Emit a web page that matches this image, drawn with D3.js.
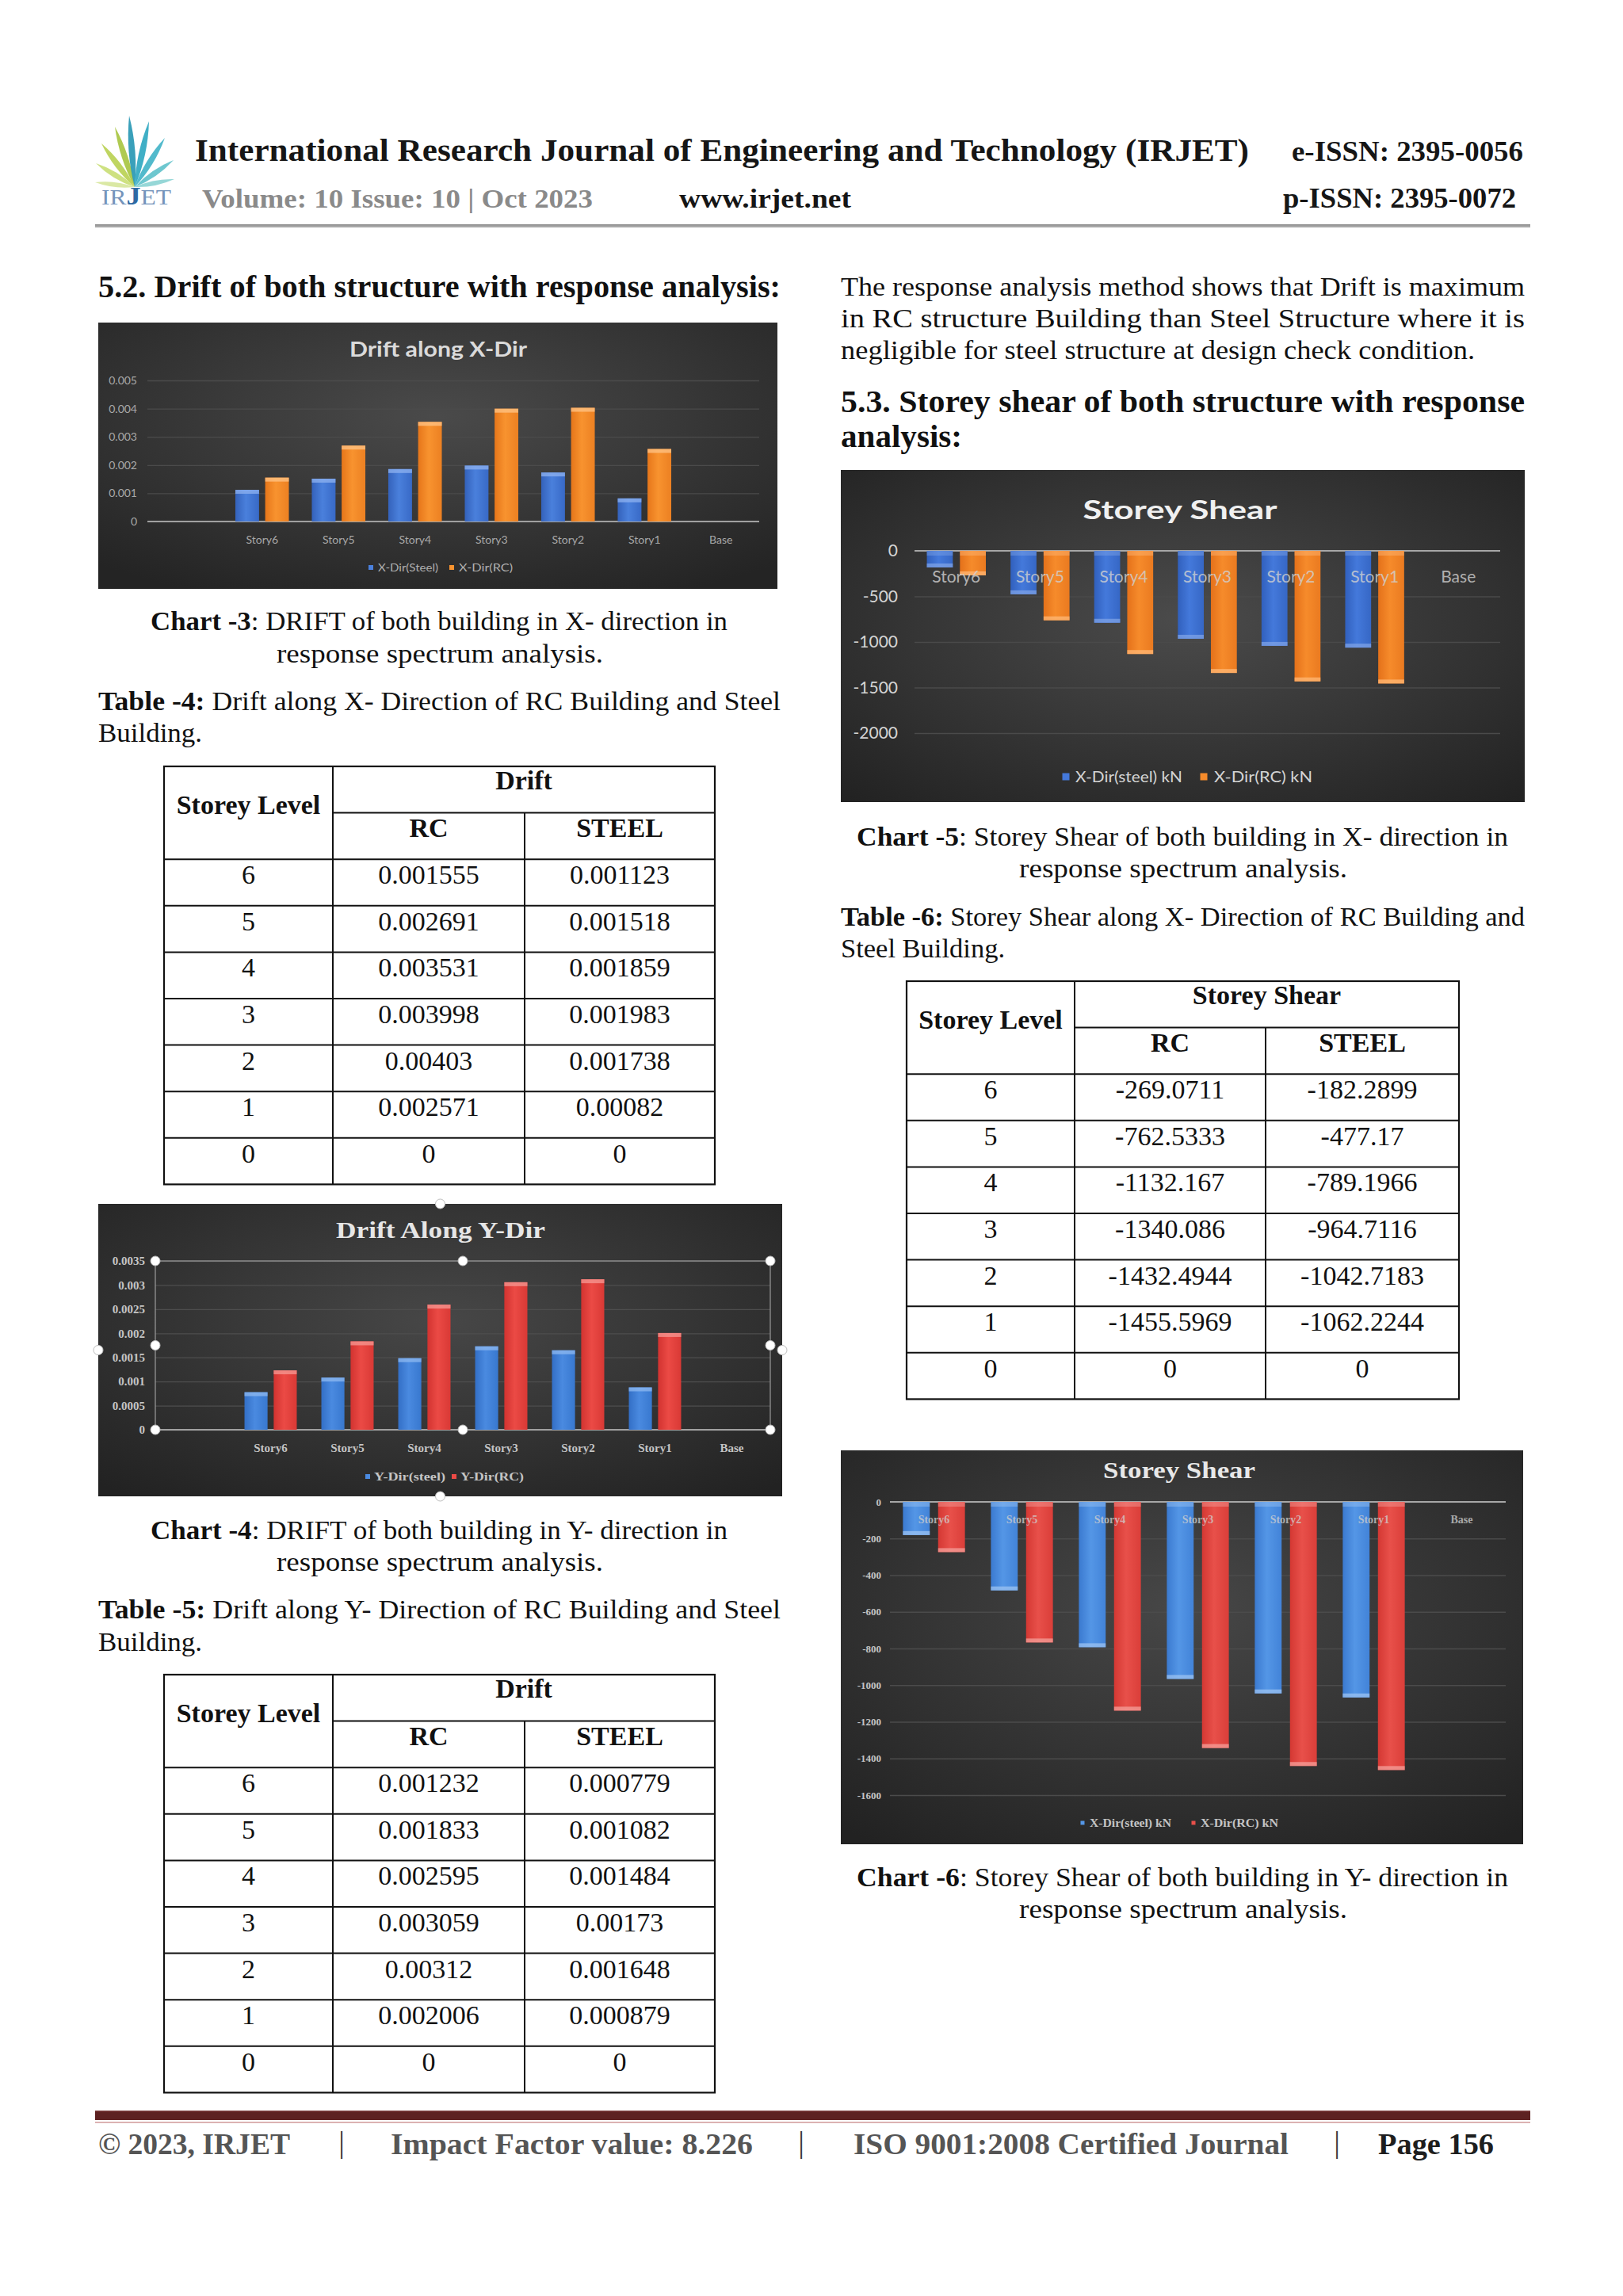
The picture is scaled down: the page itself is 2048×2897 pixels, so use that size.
<!DOCTYPE html>
<html><head><meta charset="utf-8">
<script src="https://cdn.jsdelivr.net/npm/d3@7"></script>
<style>html,body{margin:0;padding:0;background:#fff;} svg{display:block;}</style>
</head><body>
<svg id="page" width="2048" height="2897"></svg>
<script>
// ---------------- DATA ----------------
const storyCats = ["Story6","Story5","Story4","Story3","Story2","Story1","Base"];
const driftCats = ["", "Story6","Story5","Story4","Story3","Story2","Story1","Base"];
const storeyLevels = ["6","5","4","3","2","1","0"];

const driftXRC    = [0.001555, 0.002691, 0.003531, 0.003998, 0.00403, 0.002571, 0];
const driftXSteel = [0.001123, 0.001518, 0.001859, 0.001983, 0.001738, 0.00082, 0];
const driftYRC    = [0.001232, 0.001833, 0.002595, 0.003059, 0.00312, 0.002006, 0];
const driftYSteel = [0.000779, 0.001082, 0.001484, 0.00173, 0.001648, 0.000879, 0];
const shearXRC    = [-269.0711, -762.5333, -1132.167, -1340.086, -1432.4944, -1455.5969, 0];
const shearXSteel = [-182.2899, -477.17, -789.1966, -964.7116, -1042.7183, -1062.2244, 0];
// Chart 6 (Y direction) values
const shearYRC    = [-274, -767, -1139, -1343, -1441, -1463, 0];
const shearYSteel = [-181, -483, -793, -966, -1045, -1067, 0];

const driftXTicks = [0, 0.001, 0.002, 0.003, 0.004, 0.005];
const driftYTicks = [0, 0.0005, 0.001, 0.0015, 0.002, 0.0025, 0.003, 0.0035];
const shearXTicks = [0, -500, -1000, -1500, -2000];
const shearYTicks = [0, -200, -400, -600, -800, -1000, -1200, -1400, -1600];

// ---------------- HELPERS ----------------
const SERIF = "'Liberation Serif', 'Times New Roman', serif";
const SANS = "Lato, 'Open Sans', sans-serif";
const svg = d3.select("#page");
const defs = svg.append("defs");
svg.append("rect").attr("width",2048).attr("height",2897).attr("fill","#ffffff");

function txt(parent, x, y, parts, o) {
  const t = parent.append("text").attr("x", x).attr("y", y)
    .attr("font-family", o.family || SERIF).attr("font-size", o.size)
    .attr("fill", o.fill || "#111");
  if (o.weight) t.attr("font-weight", o.weight);
  if (o.anchor) t.attr("text-anchor", o.anchor);
  if (o.len) t.attr("textLength", o.len).attr("lengthAdjust", "spacingAndGlyphs");
  if (typeof parts === "string") t.text(parts);
  else parts.forEach(p => t.append("tspan").attr("font-weight", p.b ? "bold" : "normal").text(p.t));
  return t;
}

function hGrad(id, cols) {
  const g = defs.append("linearGradient").attr("id", id).attr("x1","0").attr("x2","1").attr("y1","0").attr("y2","0");
  g.append("stop").attr("offset","0%").attr("stop-color", cols[0]);
  g.append("stop").attr("offset","45%").attr("stop-color", cols[1]);
  g.append("stop").attr("offset","100%").attr("stop-color", cols[2]);
}

// ---------------- HEADER ----------------
const head = svg.append("g");
const leafOrigin = [170, 236];
const leaves = [
  [120, 230, 6, "#d6e69a"], [121, 206, 7, "#c9de74"], [128, 181, 7.5, "#b8d050"],
  [145, 160, 7.5, "#a6c43e"], [163, 146, 8, "#2596b2"], [188, 153, 8, "#2ba6c0"],
  [208, 174, 7.5, "#3fb3c6"], [219, 202, 7, "#5ec1ca"], [220, 226, 6, "#8bd3d3"]
];
leaves.forEach(l => {
  const [ox, oy] = leafOrigin, [tx, ty, w] = l;
  const mx = (ox + tx) / 2, my = (oy + ty) / 2;
  const dx = tx - ox, dy = ty - oy, len = Math.hypot(dx, dy);
  const nx = -dy / len * w, ny = dx / len * w;
  head.append("path")
    .attr("d", `M${ox},${oy} Q${mx+nx},${my+ny} ${tx},${ty} Q${mx-nx},${my-ny} ${ox},${oy}Z`)
    .attr("fill", l[3]).attr("opacity", 0.9);
});
const lt = head.append("text").attr("x", 128).attr("y", 258)
  .attr("font-family", SERIF).attr("font-size", 27).attr("fill", "#7494bb")
  .attr("textLength", 88).attr("lengthAdjust", "spacingAndGlyphs");
lt.append("tspan").text("IR");
lt.append("tspan").attr("font-size", 31).attr("fill", "#2f6aa3").attr("font-weight","bold").text("J");
lt.append("tspan").text("ET");

txt(head, 246, 203, "International Research Journal of Engineering and Technology (IRJET)", {size: 41, weight: "bold", len: 1330, fill: "#161616"});
txt(head, 1630, 203, "e-ISSN: 2395-0056", {size: 35, weight: "bold", len: 292, fill: "#161616"});
txt(head, 255, 262, "Volume: 10 Issue: 10 | Oct 2023", {size: 34, weight: "bold", len: 493, fill: "#8a8a8a"});
txt(head, 857, 262, "www.irjet.net", {size: 34, weight: "bold", len: 217, fill: "#161616"});
txt(head, 1619, 262, "p-ISSN: 2395-0072", {size: 35, weight: "bold", len: 294, fill: "#161616"});
head.append("rect").attr("x", 120).attr("y", 283).attr("width", 1811).attr("height", 4).attr("fill", "#a8a8a8");
head.append("rect").attr("x", 120).attr("y", 283).attr("width", 1811).attr("height", 1.5).attr("fill", "#8e8e8e");

// ---------------- BODY TEXT ----------------
const body = svg.append("g");
txt(body, 124, 375, "5.2. Drift of both structure with response analysis:", {size: 39, weight: "bold", len: 861});
txt(body, 1061, 373, "The response analysis method shows that Drift is maximum", {size: 34, len: 863});
txt(body, 1061, 413, "in RC structure Building than Steel Structure where it is", {size: 34, len: 863});
txt(body, 1061, 453, "negligible for steel structure at design check condition.", {size: 34, len: 800});
txt(body, 1061, 520, "5.3. Storey shear of both structure with response", {size: 39, weight: "bold", len: 863});
txt(body, 1061, 564, "analysis:", {size: 39, weight: "bold", len: 153});

txt(body, 190, 795, [{t:"Chart -3", b:true}, {t:": DRIFT of both building in X- direction in"}], {size: 34, len: 728});
txt(body, 349, 836, "response spectrum analysis.", {size: 34, len: 412});
txt(body, 124, 896, [{t:"Table -4:", b:true}, {t:" Drift along X- Direction of RC Building and Steel"}], {size: 34, len: 861});
txt(body, 124, 936, "Building.", {size: 34, len: 131});

txt(body, 190, 1942, [{t:"Chart -4", b:true}, {t:": DRIFT of both building in Y- direction in"}], {size: 34, len: 728});
txt(body, 349, 1982, "response spectrum analysis.", {size: 34, len: 412});
txt(body, 124, 2042, [{t:"Table -5:", b:true}, {t:" Drift along Y- Direction of RC Building and Steel"}], {size: 34, len: 861});
txt(body, 124, 2083, "Building.", {size: 34, len: 131});

txt(body, 1081, 1067, [{t:"Chart -5", b:true}, {t:": Storey Shear of both building in X- direction in"}], {size: 34, len: 822});
txt(body, 1286, 1107, "response spectrum analysis.", {size: 34, len: 414});
txt(body, 1061, 1168, [{t:"Table -6:", b:true}, {t:" Storey Shear along X- Direction of RC Building and"}], {size: 34, len: 863});
txt(body, 1061, 1208, "Steel Building.", {size: 34, len: 207});

txt(body, 1081, 2380, [{t:"Chart -6", b:true}, {t:": Storey Shear of both building in Y- direction in"}], {size: 34, len: 822});
txt(body, 1286, 2420, "response spectrum analysis.", {size: 34, len: 414});

// ---------------- TABLES ----------------
function drawTable(cfg) {
  const g = svg.append("g");
  const [x0, x1, x2, x3] = cfg.cols;
  const top = cfg.top, rh = cfg.rowH, nRows = 2 + storeyLevels.length;
  const bottom = top + nRows * rh;
  const ln = (a, b, c, d) => g.append("line").attr("x1", a).attr("y1", b).attr("x2", c).attr("y2", d)
    .attr("stroke", "#111").attr("stroke-width", 2);
  g.append("rect").attr("x", x0).attr("y", top).attr("width", x3 - x0).attr("height", bottom - top)
    .attr("fill", "none").attr("stroke", "#111").attr("stroke-width", 2.2);
  ln(x1, top, x1, bottom);
  ln(x2, top + rh, x2, bottom);
  ln(x1, top + rh, x3, top + rh);
  for (let r = 2; r < nRows; r++) ln(x0, top + r * rh, x3, top + r * rh);
  const c0 = (x0 + x1) / 2, c1 = (x1 + x2) / 2, c2 = (x2 + x3) / 2;
  txt(g, c0, top + rh + 1, "Storey Level", {size: 34, weight: "bold", anchor: "middle"});
  txt(g, (x1 + x3) / 2, top + 29, cfg.group, {size: 34, weight: "bold", anchor: "middle"});
  txt(g, c1, top + rh + 30, "RC", {size: 34, weight: "bold", anchor: "middle"});
  txt(g, c2, top + rh + 30, "STEEL", {size: 34, weight: "bold", anchor: "middle"});
  storeyLevels.forEach((lv, i) => {
    const y = top + (2 + i) * rh + 31;
    txt(g, c0, y, lv, {size: 34, anchor: "middle"});
    txt(g, c1, y, String(cfg.rc[i]), {size: 34, anchor: "middle"});
    txt(g, c2, y, String(cfg.steel[i]), {size: 34, anchor: "middle"});
  });
}
drawTable({cols: [207, 420, 662, 902], top: 967, rowH: 58.6, group: "Drift", rc: driftXRC, steel: driftXSteel});
drawTable({cols: [207, 420, 662, 902], top: 2113, rowH: 58.6, group: "Drift", rc: driftYRC, steel: driftYSteel});
drawTable({cols: [1144, 1356, 1597, 1841], top: 1238, rowH: 58.6, group: "Storey Shear", rc: shearXRC, steel: shearXSteel});

// ---------------- CHARTS ----------------
function barChart(c) {
  const g = svg.append("g");
  const [bx0, by0, bx1, by1] = c.box;
  const bg = defs.append("radialGradient").attr("id", c.id + "bg")
    .attr("cx", "50%").attr("cy", c.bgCy || "40%").attr("r", "75%");
  bg.append("stop").attr("offset", "0%").attr("stop-color", c.bgIn || "#4d4d4d");
  bg.append("stop").attr("offset", "100%").attr("stop-color", c.bgOut || "#222222");
  g.append("rect").attr("x", bx0).attr("y", by0).attr("width", bx1 - bx0).attr("height", by1 - by0)
    .attr("fill", `url(#${c.id}bg)`);

  const x = d3.scaleBand().domain(c.cats).range(c.plotX).paddingInner(0).paddingOuter(0);
  const y = d3.scaleLinear().domain(c.yDomain).range(c.yRange);
  const pw = c.plotX[1] - c.plotX[0];

  const gy = g.append("g").attr("transform", `translate(${c.plotX[0]},0)`)
    .call(d3.axisLeft(y).tickValues(c.ticks).tickSize(-pw).tickPadding(c.tickPad).tickFormat(d => String(d)));
  gy.select(".domain").remove();
  gy.selectAll(".tick line").attr("stroke", c.gridColor).attr("stroke-width", 1.3);
  gy.selectAll(".tick text").attr("font-family", c.tickFont).attr("font-size", c.tickSize)
    .attr("font-weight", c.tickWeight || "normal").attr("fill", c.tickFill);

  g.append("line").attr("x1", c.plotX[0]).attr("x2", c.plotX[1]).attr("y1", y(0)).attr("y2", y(0))
    .attr("stroke", c.zeroColor).attr("stroke-width", 2.2);

  if (c.frame) {
    g.append("rect").attr("x", c.plotX[0]).attr("y", y(c.yDomain[1])).attr("width", pw)
      .attr("height", y(c.yDomain[0]) - y(c.yDomain[1])).attr("fill", "none")
      .attr("stroke", "#9c9c9c").attr("stroke-width", 1.2);
  }

  const bw = x.bandwidth() * c.barFrac, gap = x.bandwidth() * c.gapFrac;
  c.series.forEach((s, si) => {
    hGrad(c.id + "s" + si, s.colors);
    const data = storyCats.map((cat, i) => ({cat, v: s.values[i]})).filter(d => d.v !== 0);
    const bx = d => x(d.cat) + x.bandwidth() / 2 + (si === 0 ? -gap / 2 - bw : gap / 2);
    g.append("g").selectAll("rect").data(data).join("rect")
      .attr("x", bx).attr("width", bw)
      .attr("y", d => Math.min(y(d.v), y(0)))
      .attr("height", d => Math.abs(y(d.v) - y(0)))
      .attr("fill", `url(#${c.id}s${si})`);
    g.append("g").selectAll("rect").data(data).join("rect")
      .attr("x", bx).attr("width", bw)
      .attr("y", d => d.v > 0 ? y(d.v) : y(d.v) - 5)
      .attr("height", 5)
      .attr("fill", s.cap).attr("opacity", 0.75);
    if (c.zeroCap) {
      g.append("g").selectAll("rect").data(data).join("rect")
        .attr("x", bx).attr("width", bw).attr("y", y(0)).attr("height", 6)
        .attr("fill", s.cap).attr("opacity", 0.45);
    }
  });

  const gx = g.append("g").attr("transform", `translate(0,${c.catY})`)
    .call(d3.axisBottom(x).tickSize(0).tickPadding(0));
  gx.select(".domain").remove();
  gx.selectAll(".tick text").attr("y", 0).attr("dy", "0.35em")
    .attr("font-family", c.catFont).attr("font-size", c.catSize)
    .attr("font-weight", c.catWeight || "normal").attr("fill", c.catFill)
    .attr("opacity", c.catOpacity || 1);

  c.series.forEach((s, si) => {
    const [mx, tx, tl] = c.legend[si];
    g.append("rect").attr("x", mx - c.legendMark / 2).attr("y", c.legendY - c.legendMark / 2)
      .attr("width", c.legendMark).attr("height", c.legendMark).attr("fill", s.colors[1]);
    txt(g, tx, c.legendY, s.name, {size: c.legendSize, family: c.legendFont, fill: c.legendFill,
      weight: c.legendWeight || "normal", len: tl}).attr("dy", "0.35em");
  });

  txt(g, c.titleX, c.titleY, c.title, {size: c.titleSize, family: c.titleFont, weight: "bold",
    anchor: "middle", fill: c.titleFill, len: c.titleLen});

  if (c.frame) {
    const xs = [c.plotX[0], (c.plotX[0] + c.plotX[1]) / 2, c.plotX[1]];
    const ys = [y(c.yDomain[1]), (y(c.yDomain[0]) + y(c.yDomain[1])) / 2, y(c.yDomain[0])];
    const pts = [];
    xs.forEach((px, i) => ys.forEach((py, j) => { if (!(i === 1 && j === 1)) pts.push([px, py]); }));
    const cx = (bx0 + bx1) / 2, cy = (by0 + by1) / 2;
    pts.push([cx, by0], [cx, by1], [bx0, cy], [bx1, cy]);
    g.append("g").selectAll("circle").data(pts).join("circle")
      .attr("cx", d => d[0]).attr("cy", d => d[1]).attr("r", 6)
      .attr("fill", "#ffffff").attr("stroke", "#bdbdbd").attr("stroke-width", 1);
  }
}

barChart({
  id: "c3", box: [124, 407, 981, 743], bgCy: "35%", bgIn: "#4a4a4a", bgOut: "#242424",
  title: "Drift along X-Dir", titleX: 553, titleY: 450, titleFont: SANS, titleSize: 26, titleLen: 224, titleFill: "#dadada",
  cats: driftCats, plotX: [186, 958], yDomain: [0, 0.005], yRange: [658, 480], ticks: driftXTicks,
  tickPad: 13, tickFont: SANS, tickSize: 14, tickFill: "#a8a8a8",
  gridColor: "#4b4b4b", zeroColor: "#a0a0a0",
  series: [
    {name: "X-Dir(Steel)", values: driftXSteel, colors: ["#3462bb", "#4a80dc", "#3869c6"], cap: "#8fb3f0"},
    {name: "X-Dir(RC)", values: driftXRC, colors: ["#e6761a", "#f8932f", "#ec8022"], cap: "#ffc487"}
  ],
  barFrac: 0.31, gapFrac: 0.08,
  catY: 681, catFont: SANS, catSize: 14, catFill: "#a8a8a8",
  legendY: 716, legend: [[468, 477, 76], [570, 579, 68]], legendMark: 6, legendSize: 14, legendFont: SANS, legendFill: "#b0b0b0"
});

barChart({
  id: "c4", box: [124, 1519, 987, 1888], bgCy: "40%", bgIn: "#474747", bgOut: "#222222",
  title: "Drift Along Y-Dir", titleX: 556, titleY: 1562, titleFont: SERIF, titleSize: 30, titleLen: 264, titleFill: "#e6e6e6",
  cats: driftCats, plotX: [196, 972], yDomain: [0, 0.0035], yRange: [1804, 1591], ticks: driftYTicks,
  tickPad: 13, tickFont: SERIF, tickSize: 15, tickWeight: "bold", tickFill: "#c4c4c4",
  gridColor: "#4e4e4e", zeroColor: "#a8a8a8", frame: true,
  series: [
    {name: "Y-Dir(steel)", values: driftYSteel, colors: ["#336fc6", "#4a8ae0", "#3878cf"], cap: "#8fbaf0"},
    {name: "Y-Dir(RC)", values: driftYRC, colors: ["#d23330", "#eb4a45", "#d93935"], cap: "#f59a94"}
  ],
  barFrac: 0.30, gapFrac: 0.08,
  catY: 1827, catFont: SERIF, catSize: 15, catWeight: "bold", catFill: "#c4c4c4",
  legendY: 1863, legend: [[464, 472, 90], [573, 581, 80]], legendMark: 6, legendSize: 15, legendFont: SERIF, legendWeight: "bold", legendFill: "#c4c4c4"
});

barChart({
  id: "c5", box: [1061, 593, 1924, 1012], bgCy: "45%", bgIn: "#4b4b4b", bgOut: "#212121",
  title: "Storey Shear", titleX: 1489, titleY: 655, titleFont: SANS, titleSize: 32, titleLen: 245, titleFill: "#f0f0f0",
  cats: storyCats, plotX: [1154, 1893], yDomain: [-2000, 0], yRange: [925, 695], ticks: shearXTicks,
  tickPad: 21, tickFont: SANS, tickSize: 21, tickFill: "#d4d4d4",
  gridColor: "#4a4a4a", zeroColor: "#a6a6a6", zeroCap: true,
  series: [
    {name: "X-Dir(steel) kN", values: shearXSteel, colors: ["#3160bd", "#4479db", "#3667c5"], cap: "#7fa3e6"},
    {name: "X-Dir(RC) kN", values: shearXRC, colors: ["#e4711a", "#f68b2b", "#ea7a20"], cap: "#ffb877"}
  ],
  barFrac: 0.31, gapFrac: 0.085,
  catY: 728, catFont: SANS, catSize: 21, catFill: "#d0d0d0", catOpacity: 0.8,
  legendY: 980, legend: [[1345, 1357, 135], [1519, 1532, 124]], legendMark: 9, legendSize: 20, legendFont: SANS, legendFill: "#d4d4d4"
});

barChart({
  id: "c6", box: [1061, 1830, 1922, 2327], bgCy: "40%", bgIn: "#474747", bgOut: "#222222",
  title: "Storey Shear", titleX: 1488, titleY: 1865, titleFont: SERIF, titleSize: 30, titleLen: 192, titleFill: "#e8e8e8",
  cats: storyCats, plotX: [1123, 1900], yDomain: [-1600, 0], yRange: [2265, 1895], ticks: shearYTicks,
  tickPad: 11, tickFont: SERIF, tickSize: 13, tickWeight: "bold", tickFill: "#c4c4c4",
  gridColor: "#4b4b4b", zeroColor: "#a6a6a6", zeroCap: true,
  series: [
    {name: "X-Dir(steel) kN", values: shearYSteel, colors: ["#3b7ad0", "#5496e6", "#4283d8"], cap: "#9cc3f2"},
    {name: "X-Dir(RC) kN", values: shearYRC, colors: ["#d43833", "#e8504a", "#da3e39"], cap: "#f4a09b"}
  ],
  barFrac: 0.305, gapFrac: 0.095,
  catY: 1917, catFont: SERIF, catSize: 14, catWeight: "bold", catFill: "#d0d0d0", catOpacity: 0.75,
  legendY: 2300, legend: [[1366, 1375, 103], [1506, 1515, 98]], legendMark: 5, legendSize: 15, legendFont: SERIF, legendWeight: "bold", legendFill: "#c4c4c4"
});

// ---------------- FOOTER ----------------
const foot = svg.append("g");
foot.append("rect").attr("x", 120).attr("y", 2663).attr("width", 1811).attr("height", 12).attr("fill", "#5d2121");
foot.append("rect").attr("x", 120).attr("y", 2663).attr("width", 1811).attr("height", 1.5).attr("fill", "#7a3a3a");
foot.append("rect").attr("x", 120).attr("y", 2677).attr("width", 1811).attr("height", 2).attr("fill", "#dcb2b2");
txt(foot, 124, 2718, "© 2023, IRJET", {size: 38, weight: "bold", len: 242, fill: "#555555"});
txt(foot, 431, 2716, "|", {size: 38, anchor: "middle", fill: "#333333"});
txt(foot, 493, 2718, "Impact Factor value: 8.226", {size: 38, weight: "bold", len: 457, fill: "#555555"});
txt(foot, 1011, 2716, "|", {size: 38, anchor: "middle", fill: "#333333"});
txt(foot, 1077, 2718, "ISO 9001:2008 Certified Journal", {size: 38, weight: "bold", len: 549, fill: "#555555"});
txt(foot, 1687, 2716, "|", {size: 38, anchor: "middle", fill: "#333333"});
txt(foot, 1739, 2718, "Page 156", {size: 38, weight: "bold", len: 146, fill: "#1e1e1e"});
</script>
</body></html>
